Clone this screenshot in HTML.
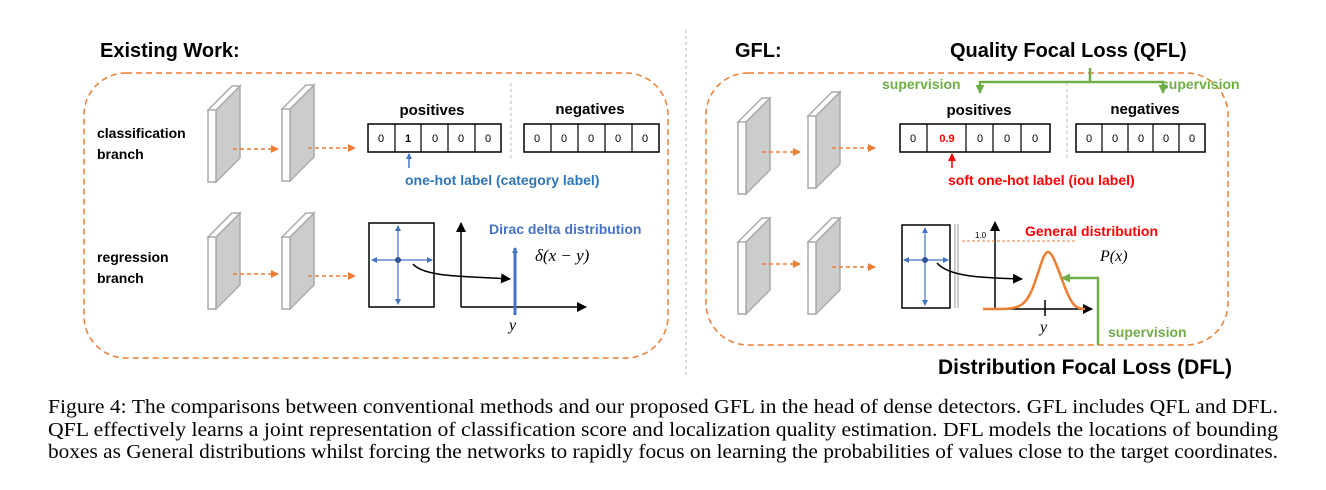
<!DOCTYPE html>
<html><head><meta charset="utf-8"><style>
body{margin:0;background:#fff;}
svg{display:block;}
.b{font-family:"Liberation Sans",sans-serif;font-weight:bold;}
.c{font-family:"Liberation Serif",serif;font-size:19.5px;fill:#000;}
.m{font-family:"Liberation Serif",serif;font-style:italic;}
</style></head><body>
<svg width="1326" height="490" viewBox="0 0 1326 490" xmlns="http://www.w3.org/2000/svg">
<defs>
<marker id="ao" markerWidth="8" markerHeight="8" refX="7" refY="4" orient="auto" markerUnits="userSpaceOnUse"><path d="M0,0 L8,4 L0,8z" fill="#ed7d31"/></marker>
<marker id="ak" markerWidth="10" markerHeight="10" refX="9" refY="5" orient="auto" markerUnits="userSpaceOnUse"><path d="M0,0 L10,5 L0,10z" fill="#000"/></marker>
<marker id="ab" markerWidth="6" markerHeight="6" refX="5" refY="3" orient="auto" markerUnits="userSpaceOnUse"><path d="M0,0 L6,3 L0,6z" fill="#4472c4"/></marker>
<marker id="ag" markerWidth="9" markerHeight="9" refX="8" refY="4.5" orient="auto" markerUnits="userSpaceOnUse"><path d="M0,0 L9,4.5 L0,9z" fill="#70ad47"/></marker>
<marker id="ar" markerWidth="8" markerHeight="8" refX="7" refY="4" orient="auto" markerUnits="userSpaceOnUse"><path d="M0,0 L8,4 L0,8z" fill="#f00"/></marker>
<g id="slab"><path d="M0,8 L24,-16 L24,56 L0,80z" fill="#ccc" stroke="#aaa" stroke-width="1.5"/><path d="M-8,8 L0,8 L0,80 L-8,80z M-8,8 L16,-16 L24,-16 L0,8z" fill="#fff" stroke="#aaa" stroke-width="1.5"/></g>
</defs>

<line x1="686" y1="30" x2="686" y2="375" stroke="#bbb" stroke-dasharray="3,3"/>

<!-- LEFT -->
<text x="100" y="57" class="b" font-size="20">Existing Work:</text>
<rect x="84" y="73" width="584" height="285" rx="42" fill="none" stroke="#ed7d31" stroke-width="1.5" stroke-dasharray="6,4"/>
<text x="97" y="138" class="b" font-size="14">classification</text>
<text x="97" y="159" class="b" font-size="14">branch</text>
<text x="97" y="262" class="b" font-size="14">regression</text>
<text x="97" y="283" class="b" font-size="14">branch</text>
<use href="#slab" x="216" y="102"/><use href="#slab" x="290" y="101"/>
<use href="#slab" x="216" y="229"/><use href="#slab" x="290" y="229"/>
<g stroke="#ed7d31" stroke-width="1.5" stroke-dasharray="4,3" marker-end="url(#ao)">
<line x1="233" y1="149" x2="278" y2="149"/><line x1="308" y1="148" x2="355" y2="148"/>
<line x1="233" y1="274" x2="278" y2="274"/><line x1="308" y1="276" x2="355" y2="276"/>
</g>
<text x="432" y="115" class="b" font-size="15" text-anchor="middle">positives</text>
<text x="590" y="114" class="b" font-size="15" text-anchor="middle">negatives</text>
<line x1="511" y1="83" x2="511" y2="160" stroke="#bbb" stroke-dasharray="3,3"/>
<g fill="#fff" stroke="#000" stroke-width="1.5">
<rect x="368" y="124" width="133" height="28"/><rect x="524" y="124" width="135" height="28"/>
</g>
<g stroke="#000" stroke-width="1.2">
<line x1="395" y1="124" x2="395" y2="152"/><line x1="421" y1="124" x2="421" y2="152"/><line x1="448" y1="124" x2="448" y2="152"/><line x1="475" y1="124" x2="475" y2="152"/>
<line x1="551" y1="124" x2="551" y2="152"/><line x1="578" y1="124" x2="578" y2="152"/><line x1="605" y1="124" x2="605" y2="152"/><line x1="632" y1="124" x2="632" y2="152"/>
</g>
<g font-family="Liberation Sans,sans-serif" font-size="11" text-anchor="middle">
<text x="381" y="142">0</text><text x="408" y="142" font-weight="bold">1</text><text x="435" y="142">0</text><text x="461" y="142">0</text><text x="488" y="142">0</text>
<text x="537" y="142">0</text><text x="564" y="142">0</text><text x="591" y="142">0</text><text x="618" y="142">0</text><text x="645" y="142">0</text>
</g>
<line x1="409" y1="168" x2="409" y2="154" stroke="#4472c4" stroke-width="1.5" marker-end="url(#ab)"/>
<text x="405" y="185" class="b" font-size="14" fill="#2e75b6">one-hot label (category label)</text>
<rect x="369" y="223" width="65" height="84" fill="none" stroke="#000" stroke-width="1.5"/>
<g stroke="#4472c4" stroke-width="1.2" marker-end="url(#ab)">
<line x1="398" y1="260" x2="398" y2="226"/><line x1="398" y1="260" x2="398" y2="304"/><line x1="398" y1="260" x2="372" y2="260"/><line x1="398" y1="260" x2="432" y2="260"/>
</g>
<circle cx="398" cy="260" r="3" fill="#2f5597"/>
<path d="M413,264 C425,278 470,276 510,279" fill="none" stroke="#000" stroke-width="1.5" marker-end="url(#ak)"/>
<line x1="461" y1="307" x2="461" y2="223" stroke="#000" stroke-width="1.5" marker-end="url(#ak)"/>
<line x1="461" y1="307" x2="586" y2="307" stroke="#000" stroke-width="1.5" marker-end="url(#ak)"/>
<line x1="515" y1="315" x2="515" y2="248" stroke="#4472c4" stroke-width="3" marker-end="url(#ab)"/>
<text x="489" y="234" class="b" font-size="14" fill="#4472c4">Dirac delta distribution</text>
<text x="535" y="261" class="m" font-size="17">δ(x − y)</text>
<text x="509" y="330" class="m" font-size="16">y</text>

<!-- RIGHT -->
<text x="735" y="57" class="b" font-size="20">GFL:</text>
<text x="950" y="57" class="b" font-size="20">Quality Focal Loss (QFL)</text>
<rect x="706" y="73" width="522" height="272" rx="42" fill="none" stroke="#ed7d31" stroke-width="1.5" stroke-dasharray="6,4"/>
<g stroke="#70ad47" stroke-width="2.5" fill="none">
<line x1="1090" y1="68" x2="1090" y2="81"/>
<polyline points="980,82 1164,82"/>
</g>
<line x1="980" y1="81" x2="980" y2="93" stroke="#70ad47" stroke-width="2.5" marker-end="url(#ag)"/>
<line x1="1163" y1="81" x2="1163" y2="93" stroke="#70ad47" stroke-width="2.5" marker-end="url(#ag)"/>
<text x="882" y="89" class="b" font-size="14" fill="#70ad47">supervision</text>
<text x="1161" y="89" class="b" font-size="14" fill="#70ad47">supervision</text>
<use href="#slab" x="746" y="114"/><use href="#slab" x="816" y="108"/>
<use href="#slab" x="746" y="234"/><use href="#slab" x="816" y="234"/>
<g stroke="#ed7d31" stroke-width="1.5" stroke-dasharray="4,3" marker-end="url(#ao)">
<line x1="762" y1="152" x2="800" y2="152"/><line x1="832" y1="148" x2="875" y2="148"/>
<line x1="762" y1="264" x2="800" y2="264"/><line x1="832" y1="267" x2="875" y2="267"/>
</g>
<text x="979" y="115" class="b" font-size="15" text-anchor="middle">positives</text>
<text x="1145" y="114" class="b" font-size="15" text-anchor="middle">negatives</text>
<line x1="1067" y1="83" x2="1067" y2="160" stroke="#bbb" stroke-dasharray="3,3"/>
<g fill="#fff" stroke="#000" stroke-width="1.5">
<rect x="900" y="124" width="150" height="28"/><rect x="1076" y="124" width="129" height="28"/>
</g>
<g stroke="#000" stroke-width="1.2">
<line x1="927" y1="124" x2="927" y2="152"/><line x1="966" y1="124" x2="966" y2="152"/><line x1="993" y1="124" x2="993" y2="152"/><line x1="1021" y1="124" x2="1021" y2="152"/>
<line x1="1102" y1="124" x2="1102" y2="152"/><line x1="1128" y1="124" x2="1128" y2="152"/><line x1="1153" y1="124" x2="1153" y2="152"/><line x1="1179" y1="124" x2="1179" y2="152"/>
</g>
<g font-family="Liberation Sans,sans-serif" font-size="11" text-anchor="middle">
<text x="913" y="142">0</text><text x="947" y="142" font-weight="bold" fill="#f00">0.9</text><text x="980" y="142">0</text><text x="1007" y="142">0</text><text x="1035" y="142">0</text>
<text x="1089" y="142">0</text><text x="1115" y="142">0</text><text x="1141" y="142">0</text><text x="1166" y="142">0</text><text x="1192" y="142">0</text>
</g>
<line x1="952" y1="168" x2="952" y2="154" stroke="#f00" stroke-width="1.5" marker-end="url(#ar)"/>
<text x="948" y="185" class="b" font-size="14" fill="#f00">soft one-hot label (iou label)</text>
<rect x="902" y="225" width="48" height="83" fill="none" stroke="#000" stroke-width="1.5"/>
<g stroke="#999" stroke-width="1"><line x1="955" y1="224" x2="955" y2="308"/><line x1="958" y1="224" x2="958" y2="308"/></g>
<g stroke="#4472c4" stroke-width="1.2" marker-end="url(#ab)">
<line x1="925" y1="260" x2="925" y2="228"/><line x1="925" y1="260" x2="925" y2="305"/><line x1="925" y1="260" x2="904" y2="260"/><line x1="925" y1="260" x2="948" y2="260"/>
</g>
<circle cx="925" cy="260" r="3" fill="#2f5597"/>
<path d="M937,263 C950,278 990,278 1022,279" fill="none" stroke="#000" stroke-width="1.5" marker-end="url(#ak)"/>
<line x1="995" y1="309" x2="995" y2="222" stroke="#000" stroke-width="1.5" marker-end="url(#ak)"/>
<line x1="995" y1="309" x2="1092" y2="309" stroke="#000" stroke-width="1.5" marker-end="url(#ak)"/>
<text x="975" y="238" font-family="Liberation Sans,sans-serif" font-size="8">1.0</text>
<line x1="962" y1="241" x2="1075" y2="241" stroke="#ed7d31" stroke-width="1" stroke-dasharray="3,2"/>
<path d="M983,309 L1000,309 C1020,309 1025,305 1032,290 C1040,270 1043,252 1048,252 C1053,252 1058,270 1066,290 C1072,305 1076,309 1085,309" fill="none" stroke="#ed7d31" stroke-width="2.5"/>
<line x1="1045" y1="300" x2="1045" y2="316" stroke="#000" stroke-width="1.5"/>
<text x="1025" y="236" class="b" font-size="14" fill="#f00">General distribution</text>
<text x="1100" y="261" class="m" font-size="16">P(x)</text>
<text x="1040" y="332" class="m" font-size="16">y</text>
<polyline points="1098,345 1098,278 1066,278" fill="none" stroke="#70ad47" stroke-width="2.5"/>
<line x1="1070" y1="278" x2="1062" y2="278" stroke="#70ad47" stroke-width="2.5" marker-end="url(#ag)"/>
<text x="1108" y="337" class="b" font-size="14" fill="#70ad47">supervision</text>
<text x="938" y="374" class="b" font-size="21">Distribution Focal Loss (DFL)</text>

<!-- caption -->
<text x="48" y="413" class="c" textLength="1230" lengthAdjust="spacingAndGlyphs">Figure 4: The comparisons between conventional methods and our proposed GFL in the head of dense detectors. GFL includes QFL and DFL.</text>
<text x="48" y="436" class="c" textLength="1230" lengthAdjust="spacingAndGlyphs">QFL effectively learns a joint representation of classification score and localization quality estimation. DFL models the locations of bounding</text>
<text x="48" y="458" class="c" textLength="1230" lengthAdjust="spacingAndGlyphs">boxes as General distributions whilst forcing the networks to rapidly focus on learning the probabilities of values close to the target coordinates.</text>
</svg>
</body></html>
